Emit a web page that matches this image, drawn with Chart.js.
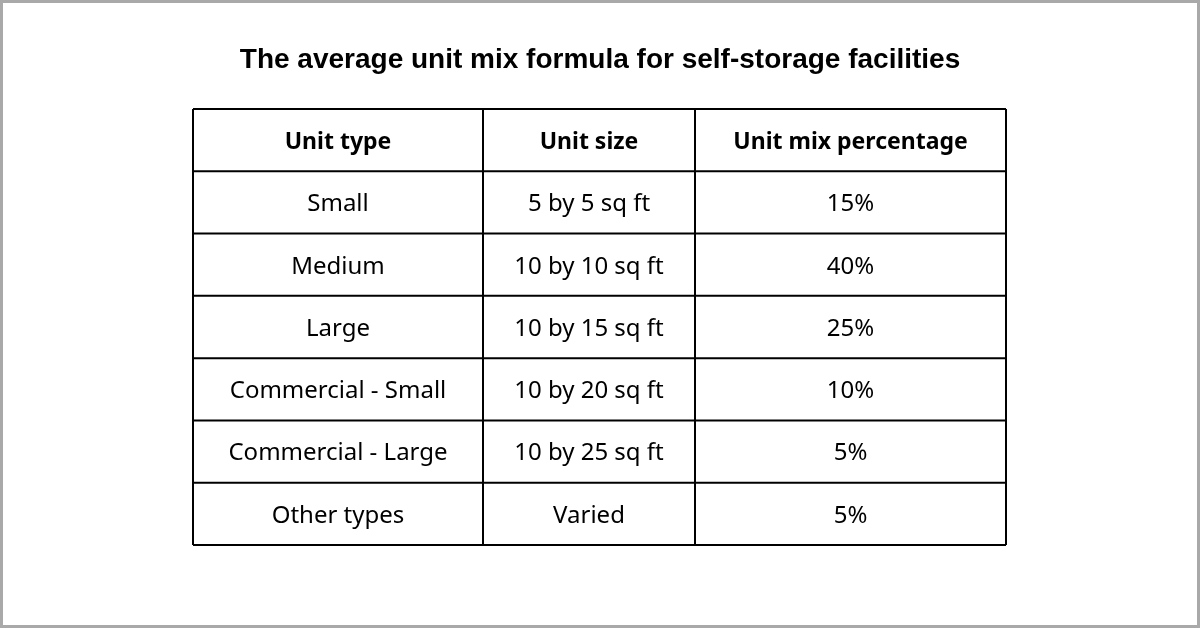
<!DOCTYPE html>
<html><head><meta charset="utf-8">
<script src="https://cdn.jsdelivr.net/npm/chart.js@4/dist/chart.umd.min.js"></script>
<style>html,body{margin:0;padding:0;background:#fff}#c{display:block}</style>
</head><body>
<div style="width:1200px;height:628px"><canvas id="c"></canvas></div>
<script>
const title = "The average unit mix formula for self-storage facilities";
const headers = ["Unit type", "Unit size", "Unit mix percentage"];
const unitTypes = ["Small", "Medium", "Large", "Commercial - Small", "Commercial - Large", "Other types"];
const unitSizes = ["5 by 5 sq ft", "10 by 10 sq ft", "10 by 15 sq ft", "10 by 20 sq ft", "10 by 25 sq ft", "Varied"];
const mixPercent = [15, 40, 25, 10, 5, 5];
const colEdges = [0, 290, 502, 813];

const tablePlugin = {
  id: 'table',
  afterDraw(chart) {
    const ctx = chart.ctx, xs = chart.scales.x, ys = chart.scales.y;
    ctx.save();
    ctx.strokeStyle = '#a9a9a9'; ctx.lineWidth = 3;
    ctx.strokeRect(1.5, 1.5, chart.width - 3, chart.height - 3);
    ctx.fillStyle = '#000'; ctx.textAlign = 'center'; ctx.textBaseline = 'middle';
    ctx.font = 'bold 28px "Liberation Sans", Arial, sans-serif';
    ctx.fillText(title, chart.width / 2, 60);
    const rows = [headers].concat(unitTypes.map((t, i) => [t, unitSizes[i], mixPercent[i] + '%']));
    ctx.strokeStyle = '#000'; ctx.lineWidth = 2;
    const x0 = xs.getPixelForValue(colEdges[0]), x1 = xs.getPixelForValue(colEdges[colEdges.length - 1]);
    const y0 = ys.getPixelForValue(0), y1 = ys.getPixelForValue(rows.length);
    for (let r = 0; r <= rows.length; r++) {
      const y = ys.getPixelForValue(r);
      ctx.beginPath(); ctx.moveTo(x0, y); ctx.lineTo(x1, y); ctx.stroke();
    }
    colEdges.forEach(e => {
      const x = xs.getPixelForValue(e);
      ctx.beginPath(); ctx.moveTo(x, y0); ctx.lineTo(x, y1); ctx.stroke();
    });
    rows.forEach((row, r) => {
      ctx.font = (r === 0 ? 'bold 23px' : '24px') + ' "Noto Sans", sans-serif';
      row.forEach((txt, c) => {
        const cx = (xs.getPixelForValue(colEdges[c]) + xs.getPixelForValue(colEdges[c + 1])) / 2;
        const cy = (ys.getPixelForValue(r) + ys.getPixelForValue(r + 1)) / 2;
        ctx.fillText(txt, cx, cy + 2);
      });
    });
    ctx.restore();
  }
};

new Chart(document.getElementById('c'), {
  type: 'scatter',
  data: { datasets: [{ data: [], pointRadius: 0 }] },
  options: {
    responsive: true, maintainAspectRatio: false, animation: false,
    layout: { padding: { left: 193, right: 194, top: 109, bottom: 83 } },
    plugins: { legend: { display: false }, tooltip: { enabled: false } },
    scales: {
      x: { type: 'linear', min: 0, max: 813, display: false },
      y: { type: 'linear', min: 0, max: 7, reverse: true, display: false }
    }
  },
  plugins: [tablePlugin]
});
</script>
</body></html>
